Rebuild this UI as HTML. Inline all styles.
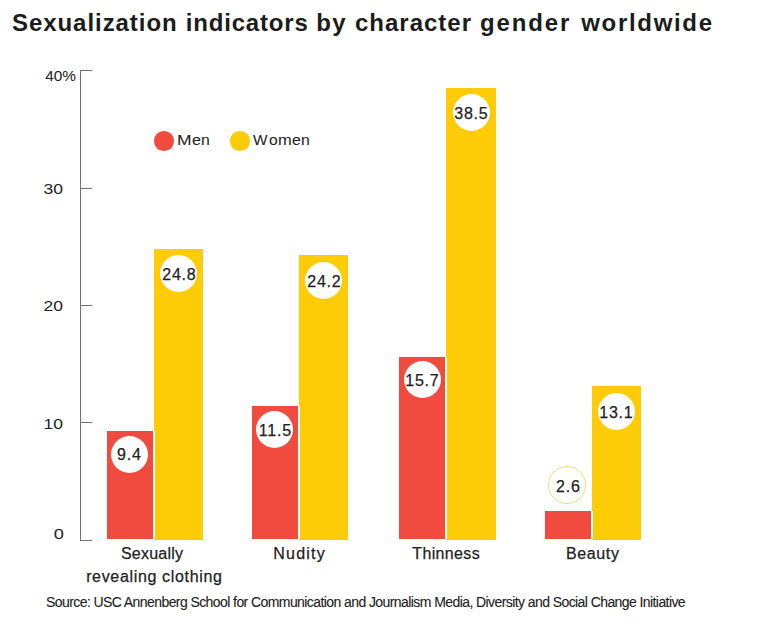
<!DOCTYPE html>
<html>
<head>
<meta charset="utf-8">
<style>
html,body{margin:0;padding:0;background:#fff;}
body{width:768px;height:622px;position:relative;overflow:hidden;font-family:"Liberation Sans",sans-serif;color:#222;}
.cl,.xl{-webkit-text-stroke:0.25px #222;}
.src{-webkit-text-stroke:0.1px #222;}
.lt{color:#2a2a2a;}
.a{position:absolute;}
.t{position:absolute;white-space:nowrap;line-height:1;}
.title{top:10.5px;font-size:24px;font-weight:bold;color:#1c1c1c;}
.ax{position:absolute;background:#727272;}
.yl{position:absolute;width:40px;text-align:right;font-size:14px;line-height:1;color:#222;transform:scaleX(1.25);transform-origin:100% 50%;}
.bar{position:absolute;}
.r{background:#F04B3E;box-shadow:2px 0 0 #fff;}
.y{background:#FECC07;}
.c{position:absolute;width:37px;height:37px;border-radius:50%;background:#fff;}
.cl{position:absolute;width:60px;text-align:center;font-size:16px;line-height:1;color:#222;letter-spacing:0.8px;text-indent:0.8px;}
.xl{position:absolute;width:160px;text-align:center;font-size:16px;line-height:23px;color:#222;}
.src{left:46px;top:595px;font-size:14px;letter-spacing:-0.58px;color:#222;}
.leg{position:absolute;width:19.5px;height:19.5px;border-radius:50%;}
.lt{position:absolute;font-size:14px;line-height:1;letter-spacing:1px;color:#222;}
</style>
</head>
<body>
<div class="t title" style="left:12.0px;letter-spacing:0.94px">Sexualization</div>
<div class="t title" style="left:185.7px;letter-spacing:0.83px">indicators</div>
<div class="t title" style="left:316.2px;letter-spacing:1.40px">by</div>
<div class="t title" style="left:355.0px;letter-spacing:0.99px">character</div>
<div class="t title" style="left:480.0px;letter-spacing:1.88px">gender</div>
<div class="t title" style="left:581.2px;letter-spacing:1.69px">worldwide</div>


<!-- axis -->
<div class="ax" style="left:80px;top:70px;width:1px;height:471px;"></div>
<div class="ax" style="left:80px;top:70px;width:12px;height:1px;"></div>
<div class="ax" style="left:80px;top:188px;width:12px;height:1px;"></div>
<div class="ax" style="left:80px;top:305px;width:12px;height:1px;"></div>
<div class="ax" style="left:80px;top:422px;width:12px;height:1px;"></div>
<div class="ax" style="left:80px;top:540px;width:12px;height:1px;"></div>

<div class="yl" style="left:36px;top:69px;transform:scaleX(1.1)">40%</div>
<div class="yl" style="left:23px;top:182px;">30</div>
<div class="yl" style="left:23px;top:299px;">20</div>
<div class="yl" style="left:23px;top:417px;">10</div>
<div class="yl" style="left:23.5px;top:527px;transform:scaleX(1.3)">0</div>

<!-- legend -->
<div class="leg" style="left:154px;top:131px;background:#F04B3E;"></div>
<div class="lt" style="left:176.6px;top:133px;transform:scaleX(1.25);transform-origin:0 50%">M</div><div class="lt" style="left:191.7px;top:133px;transform:scaleX(1.15);transform-origin:0 50%">e</div><div class="lt" style="left:201.4px;top:133px;transform:scaleX(1.13);transform-origin:0 50%">n</div>
<div class="leg" style="left:230px;top:131px;background:#FECC07;"></div>
<div class="lt" style="left:253.4px;top:133px;transform:scaleX(1.1);transform-origin:0 50%">W</div><div class="lt" style="left:268.6px;top:133px;transform:scaleX(1.12);transform-origin:0 50%">o</div><div class="lt" style="left:277.7px;top:133px;transform:scaleX(1.18);transform-origin:0 50%">m</div><div class="lt" style="left:291.9px;top:133px;transform:scaleX(1.13);transform-origin:0 50%">e</div><div class="lt" style="left:301.2px;top:133px;transform:scaleX(1.13);transform-origin:0 50%">n</div>

<!-- bars -->
<div class="bar y" style="left:154px;top:249px;width:49px;height:291px;"></div>
<div class="bar y" style="left:299px;top:255px;width:49px;height:285px;"></div>
<div class="bar y" style="left:446px;top:88px;width:50px;height:452px;"></div>
<div class="bar y" style="left:592px;top:386px;width:49px;height:154px;"></div>
<div class="bar r" style="left:107px;top:431px;width:46px;height:108px;"></div>
<div class="bar r" style="left:252px;top:406px;width:46px;height:133px;"></div>
<div class="bar r" style="left:399px;top:357px;width:46px;height:182px;"></div>
<div class="bar r" style="left:545px;top:511px;width:46px;height:28px;"></div>

<!-- circles -->
<div class="c" style="left:111px;top:436px;"></div>
<div class="cl" style="left:99px;top:447px;">9.4</div>
<div class="c" style="left:160px;top:255px;"></div>
<div class="cl" style="left:149px;top:267px;">24.8</div>
<div class="c" style="left:256px;top:411px;"></div>
<div class="cl" style="left:245px;top:423px;">11.5</div>
<div class="c" style="left:305px;top:262px;"></div>
<div class="cl" style="left:294px;top:274px;">24.2</div>
<div class="c" style="left:404px;top:361px;"></div>
<div class="cl" style="left:392px;top:373px;">15.7</div>
<div class="c" style="left:453px;top:94px;"></div>
<div class="cl" style="left:441px;top:106px;">38.5</div>
<div class="c" style="left:548px;top:466px;box-sizing:border-box;border:1px solid #EEDD78;width:38px;height:38px;"></div>
<div class="cl" style="left:538px;top:479px;">2.6</div>
<div class="c" style="left:598px;top:393px;"></div>
<div class="cl" style="left:586px;top:405px;">13.1</div>

<!-- x labels -->
<div class="xl" style="left:74px;top:542px;"><span style="letter-spacing:0.25px;padding-left:0.25px;position:relative;left:-2px">Sexually</span><br><span style="letter-spacing:0.66px;padding-left:0.66px">revealing clothing</span></div>
<div class="xl" style="left:219px;top:542px;letter-spacing:1.2px;text-indent:1.2px">Nudity</div>
<div class="xl" style="left:366px;top:542px;letter-spacing:0.34px;text-indent:0.34px">Thinness</div>
<div class="xl" style="left:512.5px;top:542px;letter-spacing:0.6px;text-indent:0.6px">Beauty</div>

<div class="t src">Source: USC Annenberg School for Communication and Journalism Media, Diversity and Social Change Initiative</div>
</body>
</html>
